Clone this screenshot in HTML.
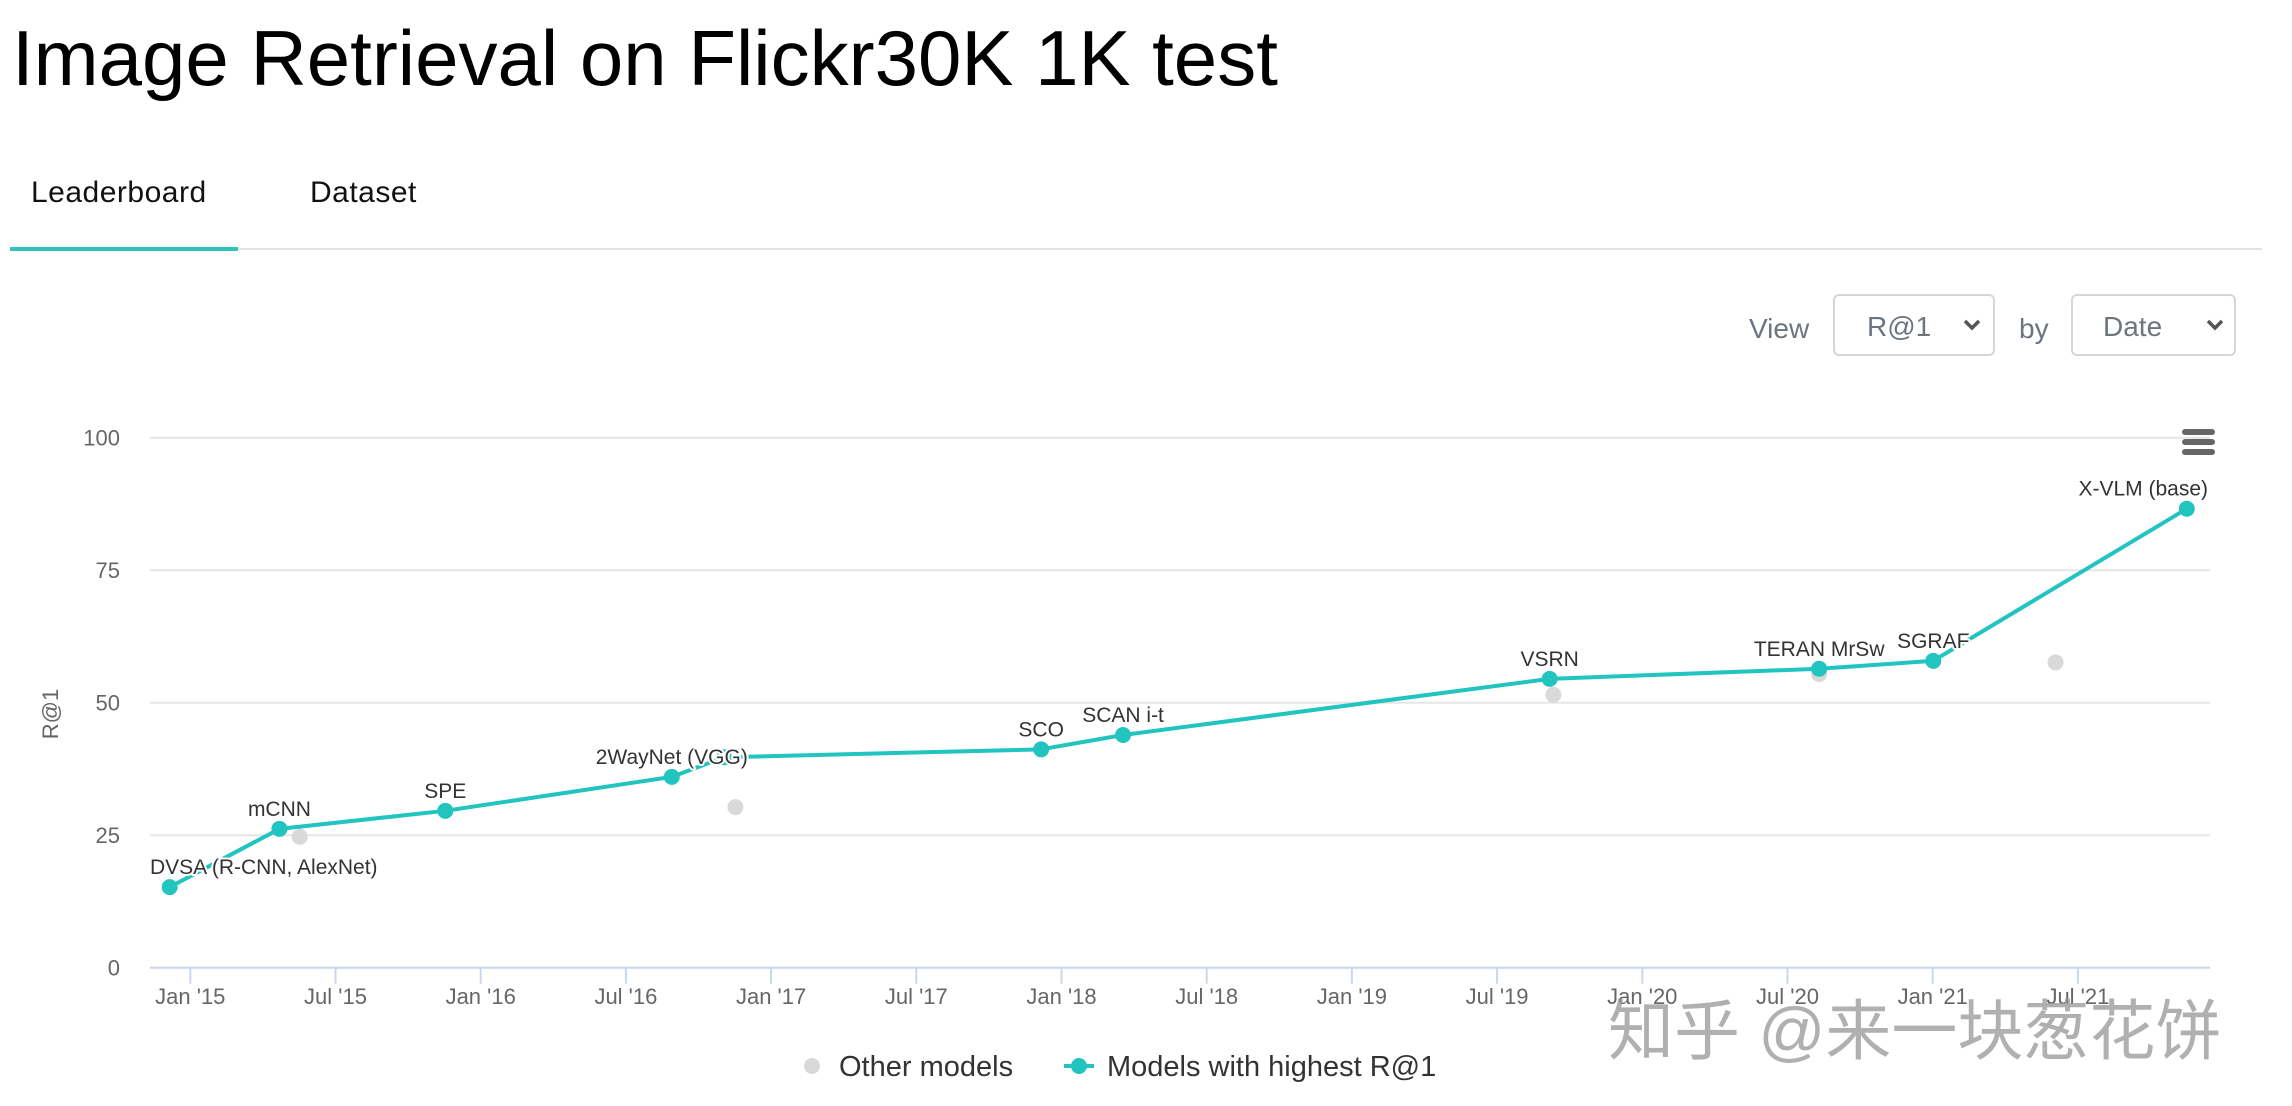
<!DOCTYPE html>
<html><head><meta charset="utf-8"><style>
html,body{margin:0;padding:0;background:#fff;width:2292px;height:1106px;overflow:hidden;font-family:"Liberation Sans","Noto Sans CJK SC",sans-serif;}
.abs{position:absolute;}
</style></head><body>
<div class="abs" style="left:12px;top:13px;font-size:78px;color:#000;white-space:nowrap;letter-spacing:0px;">Image Retrieval on Flickr30K 1K test</div>
<div class="abs" style="left:31px;top:176px;font-size:30px;color:#111;letter-spacing:0.5px;">Leaderboard</div>
<div class="abs" style="left:310px;top:176px;font-size:30px;color:#111;letter-spacing:0.5px;">Dataset</div>
<div class="abs" style="left:10px;top:248px;width:2252px;height:2px;background:#e2e2e2;"></div>
<div class="abs" style="left:10px;top:247px;width:228px;height:4px;background:#2ec4bd;"></div>
<div class="abs" style="left:1749px;top:313px;font-size:28px;color:#6c757d;">View</div>
<div class="abs" style="left:1833px;top:294px;width:162px;height:62px;border:2px solid #d6d6d6;border-radius:6px;box-sizing:border-box;">
 <span style="position:absolute;left:32px;top:15px;font-size:28px;color:#6c757d;">R@1</span>
 <svg style="position:absolute;right:12px;top:22px" width="18" height="14"><polyline points="2,3 9,10 16,3" fill="none" stroke="#555" stroke-width="3.5"/></svg>
</div>
<div class="abs" style="left:2019px;top:313px;font-size:28px;color:#6c757d;">by</div>
<div class="abs" style="left:2071px;top:294px;width:165px;height:62px;border:2px solid #d6d6d6;border-radius:6px;box-sizing:border-box;">
 <span style="position:absolute;left:30px;top:15px;font-size:28px;color:#6c757d;">Date</span>
 <svg style="position:absolute;right:10px;top:22px" width="18" height="14"><polyline points="2,3 9,10 16,3" fill="none" stroke="#555" stroke-width="3.5"/></svg>
</div>
<svg id="chart" class="abs" style="left:0;top:0" width="2292" height="1106"></svg>
<div class="abs" style="left:1608px;top:978px;font-size:66px;color:rgba(150,150,150,0.75);white-space:nowrap;font-family:'Liberation Sans','Noto Sans CJK SC',sans-serif;">知乎 @来一块葱花饼</div>
<script>
const bestDates=[2014.929,2015.307,2015.878,2016.658,2016.838,2017.93,2018.212,2019.681,2020.609,2021.002,2021.875];
const bestValues=[15.2,26.2,29.6,36.0,39.7,41.2,43.9,54.5,56.4,57.9,86.6];
const bestLabels=["DVSA (R-CNN, AlexNet)","mCNN","SPE","2WayNet (VGG)","","SCO","SCAN i-t","VSRN","TERAN MrSw","SGRAF","X-VLM (base)"];
const otherDates=[2015.377,2016.877,2019.694,2020.609,2021.423];
const otherValues=[24.7,30.3,51.5,55.4,57.6];
const yTicks=[0,25,50,75,100];
const xTickLabels=["Jan '15","Jul '15","Jan '16","Jul '16","Jan '17","Jul '17","Jan '18","Jul '18","Jan '19","Jul '19","Jan '20","Jul '20","Jan '21","Jul '21"];
const xTickDates=[2015,2015.5,2016,2016.5,2017,2017.5,2018,2018.5,2019,2019.5,2020,2020.5,2021,2021.5];

const NS="http://www.w3.org/2000/svg";
const svg=document.getElementById('chart');
const PL=150,PR=2210,Y0=967.7,YTOP=437.7;
function xs(t){return 190.3+(t-2015)*290.4;}
function ys(v){return Y0-(v/100)*(Y0-YTOP);}
function mk(tag,attrs){const e=document.createElementNS(NS,tag);for(const k in attrs)e.setAttribute(k,attrs[k]);svg.appendChild(e);return e;}

yTicks.forEach(v=>{
  if(v>0){const g=mk('line',{x1:PL,x2:PR,y1:ys(v),y2:ys(v),stroke:'#e6e6e6','stroke-width':2});
  
  }
  const t=mk('text',{x:120,y:ys(v)+8,'text-anchor':'end','font-size':22,fill:'#666','font-family':'Liberation Sans, sans-serif'});
  t.textContent=v;
  
  
});
const ax=mk('line',{x1:PL,x2:PR,y1:Y0,y2:Y0,stroke:'#ccd6eb','stroke-width':2});


xTickDates.forEach((d,i)=>{
  const x=xs(d);
  const tk=mk('line',{x1:x,x2:x,y1:Y0,y2:Y0+16,stroke:'#ccd6eb','stroke-width':2});
  
  
  const t=mk('text',{x:x,y:1004,'text-anchor':'middle','font-size':22,fill:'#666','font-family':'Liberation Sans, sans-serif'});
  t.textContent=xTickLabels[i];
  
  
});
const yt=mk('text',{x:0,y:0,'text-anchor':'middle','font-size':22,fill:'#666',transform:'translate(58,714) rotate(-90)','font-family':'Liberation Sans, sans-serif'});
yt.textContent='R@1';



otherDates.forEach((d,i)=>{
  const c=mk('circle',{cx:xs(d),cy:ys(otherValues[i]),r:8,fill:'#d9d9d9'});
  
  
});
const pts=bestDates.map((d,i)=>xs(d)+','+ys(bestValues[i])).join(' ');
const pl=mk('polyline',{points:pts,fill:'none',stroke:'#21c4be','stroke-width':4,'stroke-linejoin':'round'});


bestDates.forEach((d,i)=>{
  const c=mk('circle',{cx:xs(d),cy:ys(bestValues[i]),r:8,fill:'#21c4be'});
  
  
});
bestDates.forEach((d,i)=>{
  if(!bestLabels[i])return;
  const t=mk('text',{x:xs(d),y:ys(bestValues[i])-13,'text-anchor':'middle','font-size':21,fill:'#333',stroke:'#fff','stroke-width':4,'paint-order':'stroke','stroke-linejoin':'round','font-family':'Liberation Sans, sans-serif'});
  t.textContent=bestLabels[i];
  
  
  const w=t.getComputedTextLength();
  if(xs(d)-w/2<PL){t.setAttribute('text-anchor','start');t.setAttribute('x',PL);}
  if(xs(d)+w/2>PR){t.setAttribute('text-anchor','end');t.setAttribute('x',PR-2);}
});
[432,442,452].forEach(y=>{
  const b=mk('rect',{x:2182,y:y-3,width:33,height:6,rx:3,fill:'#666'});
  
  
});
const l1=mk('circle',{cx:812,cy:1066,r:8,fill:'#d9d9d9'});


const lt1=mk('text',{x:839,y:1076,'font-size':29,fill:'#333','font-family':'Liberation Sans, sans-serif'});
lt1.textContent='Other models';


const l2=mk('line',{x1:1064,x2:1094,y1:1066,y2:1066,stroke:'#21c4be','stroke-width':4});


const l3=mk('circle',{cx:1079,cy:1066,r:8,fill:'#21c4be'});


const lt2=mk('text',{x:1107,y:1076,'font-size':29,fill:'#333','font-family':'Liberation Sans, sans-serif'});
lt2.textContent='Models with highest R@1';


</script>
</body></html>
